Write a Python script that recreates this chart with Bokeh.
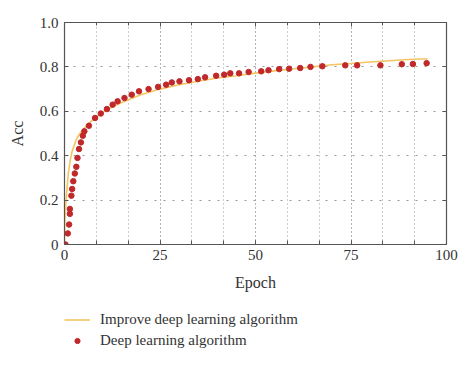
from bokeh.plotting import figure
from bokeh.layouts import column
from bokeh.models import (FixedTicker, LinearAxis, Legend, LegendItem, Range1d,
                          CustomJSTickFormatter)
from bokeh.embed import file_html
from bokeh.resources import INLINE

# Improve deep learning algorithm (curve)
curve_x = [0, 0.1, 0.3, 0.5, 1, 1.5, 2, 3, 4, 5, 6, 8, 10, 12, 15, 20, 25, 30, 35, 40,
           45, 50, 55, 60, 65, 70, 75, 80, 85, 90, 95]
curve_y = [0, 0.10, 0.17, 0.22, 0.32, 0.38, 0.42, 0.47, 0.50, 0.52, 0.54, 0.57, 0.595,
           0.615, 0.64, 0.675, 0.70, 0.72, 0.735, 0.75, 0.76, 0.772, 0.782, 0.792, 0.80,
           0.81, 0.815, 0.822, 0.828, 0.833, 0.837]

# Deep learning algorithm (dots)
dots_x = [0.26, 0.87, 1.2, 1.4, 1.4, 1.8, 2.0, 2.3, 2.7, 3.1, 3.4, 3.8, 4.3, 4.8, 5.2,
          6.4, 8.0, 9.5, 11.1, 12.6, 13.9, 15.7, 17.6, 19.5, 22.0, 24.5, 26.6, 28.1,
          30.1, 32.6, 34.9, 36.8, 39.7, 41.8, 43.4, 45.7, 48.2, 51.5, 53.4, 56.2, 58.8,
          61.7, 64.4, 67.5, 73.5, 76.6, 82.7, 88.3, 91.2, 94.8]
dots_y = [0.0, 0.05, 0.09, 0.138, 0.16, 0.22, 0.25, 0.285, 0.32, 0.35, 0.39, 0.43, 0.46,
          0.49, 0.51, 0.535, 0.57, 0.59, 0.61, 0.63, 0.645, 0.66, 0.675, 0.69, 0.70,
          0.71, 0.72, 0.73, 0.735, 0.74, 0.745, 0.753, 0.76, 0.765, 0.771, 0.771, 0.777,
          0.78, 0.785, 0.79, 0.792, 0.795, 0.80, 0.803, 0.807, 0.807, 0.807, 0.812,
          0.813, 0.817]

series_names = ["Improve deep learning algorithm", "Deep learning algorithm"]

x_major = [0, 25, 50, 75, 100]
x_minor = [round(k * 100 / 12, 6) for k in range(13)]
y_ticks = [0, 0.2, 0.4, 0.6, 0.8, 1.0]

FONT = "Liberation Serif"
TXT = "#333333"
AX = "#555555"
LINE_C = "#F3C563"
DOT_C = "#C0282A"

p = figure(width=466, height=306, output_backend="svg", toolbar_location=None,
           x_range=Range1d(0, 100), y_range=Range1d(0, 1.0),
           min_border_left=64, min_border_right=20, min_border_top=22,
           min_border_bottom=62)
p.outline_line_color = AX
p.outline_line_width = 1.2

xt = FixedTicker(ticks=x_major, minor_ticks=x_minor)
yt = FixedTicker(ticks=y_ticks, minor_ticks=[])

p.xaxis.ticker = xt
p.yaxis.ticker = yt
p.yaxis.major_label_overrides = {0: "0", 1: "1.0"}

for ax in (p.xaxis[0], p.yaxis[0]):
    ax.axis_line_color = AX
    ax.major_tick_line_color = AX
    ax.minor_tick_line_color = AX
    ax.major_tick_in = 4
    ax.major_tick_out = 0
    ax.minor_tick_in = 4
    ax.minor_tick_out = 0
    ax.major_label_text_font = FONT
    ax.major_label_text_font_size = "15px"
    ax.major_label_text_color = TXT
    ax.axis_label_text_font = FONT
    ax.axis_label_text_font_size = "16px"
    ax.axis_label_text_font_style = "normal"
    ax.axis_label_text_color = TXT

p.xaxis.axis_label = "Epoch"
p.yaxis.axis_label = "Acc"
p.xaxis.major_label_standoff = 5
p.yaxis.major_label_standoff = 6
p.xaxis.axis_label_standoff = 11
p.yaxis.axis_label_standoff = 11

blank = CustomJSTickFormatter(code="return ''")
for loc in ("right", "above"):
    a = LinearAxis(ticker=(yt if loc == "right" else xt), formatter=blank,
                   axis_line_color=AX, major_tick_line_color=AX, minor_tick_line_color=AX,
                   major_tick_in=4, major_tick_out=0, minor_tick_in=3, minor_tick_out=0,
                   major_label_standoff=0)
    p.add_layout(a, loc)

p.xgrid.grid_line_color = "#999999"
p.xgrid.grid_line_dash = "1 3"
p.xgrid.minor_grid_line_color = "#999999"
p.xgrid.minor_grid_line_dash = "1 3"
p.ygrid.grid_line_color = "#999999"
p.ygrid.grid_line_dash = "2 7"

p.line(curve_x, curve_y, line_color=LINE_C, line_width=1.6)
p.scatter(dots_x, dots_y, size=5.5, fill_color=DOT_C, line_color=DOT_C)

# legend panel below the chart (its ranges keep the data out of view; only the legend shows)
p2 = figure(width=466, height=52, output_backend="svg", toolbar_location=None,
            x_range=Range1d(1000, 1001), y_range=Range1d(1000, 1001),
            x_axis_type=None, y_axis_type=None,
            min_border_left=0, min_border_right=0, min_border_top=0, min_border_bottom=0)
p2.outline_line_color = None
p2.grid.visible = False
l_line = p2.line(curve_x, curve_y, line_color=LINE_C, line_width=1.6)
l_dots = p2.scatter(dots_x, dots_y, size=5.5, fill_color=DOT_C, line_color=DOT_C)

legend = Legend(items=[LegendItem(label=series_names[0], renderers=[l_line]),
                       LegendItem(label=series_names[1], renderers=[l_dots])],
                location=(0, 8), padding=0, margin=0, spacing=1,
                glyph_width=26, glyph_height=13, label_height=20, label_standoff=10,
                border_line_color=None, background_fill_alpha=0,
                label_text_font=FONT, label_text_font_size="15px", label_text_color=TXT)
p2.add_layout(legend, "center")

layout = column(p, p2, spacing=0)
open("out.html", "w").write(file_html(layout, INLINE))
